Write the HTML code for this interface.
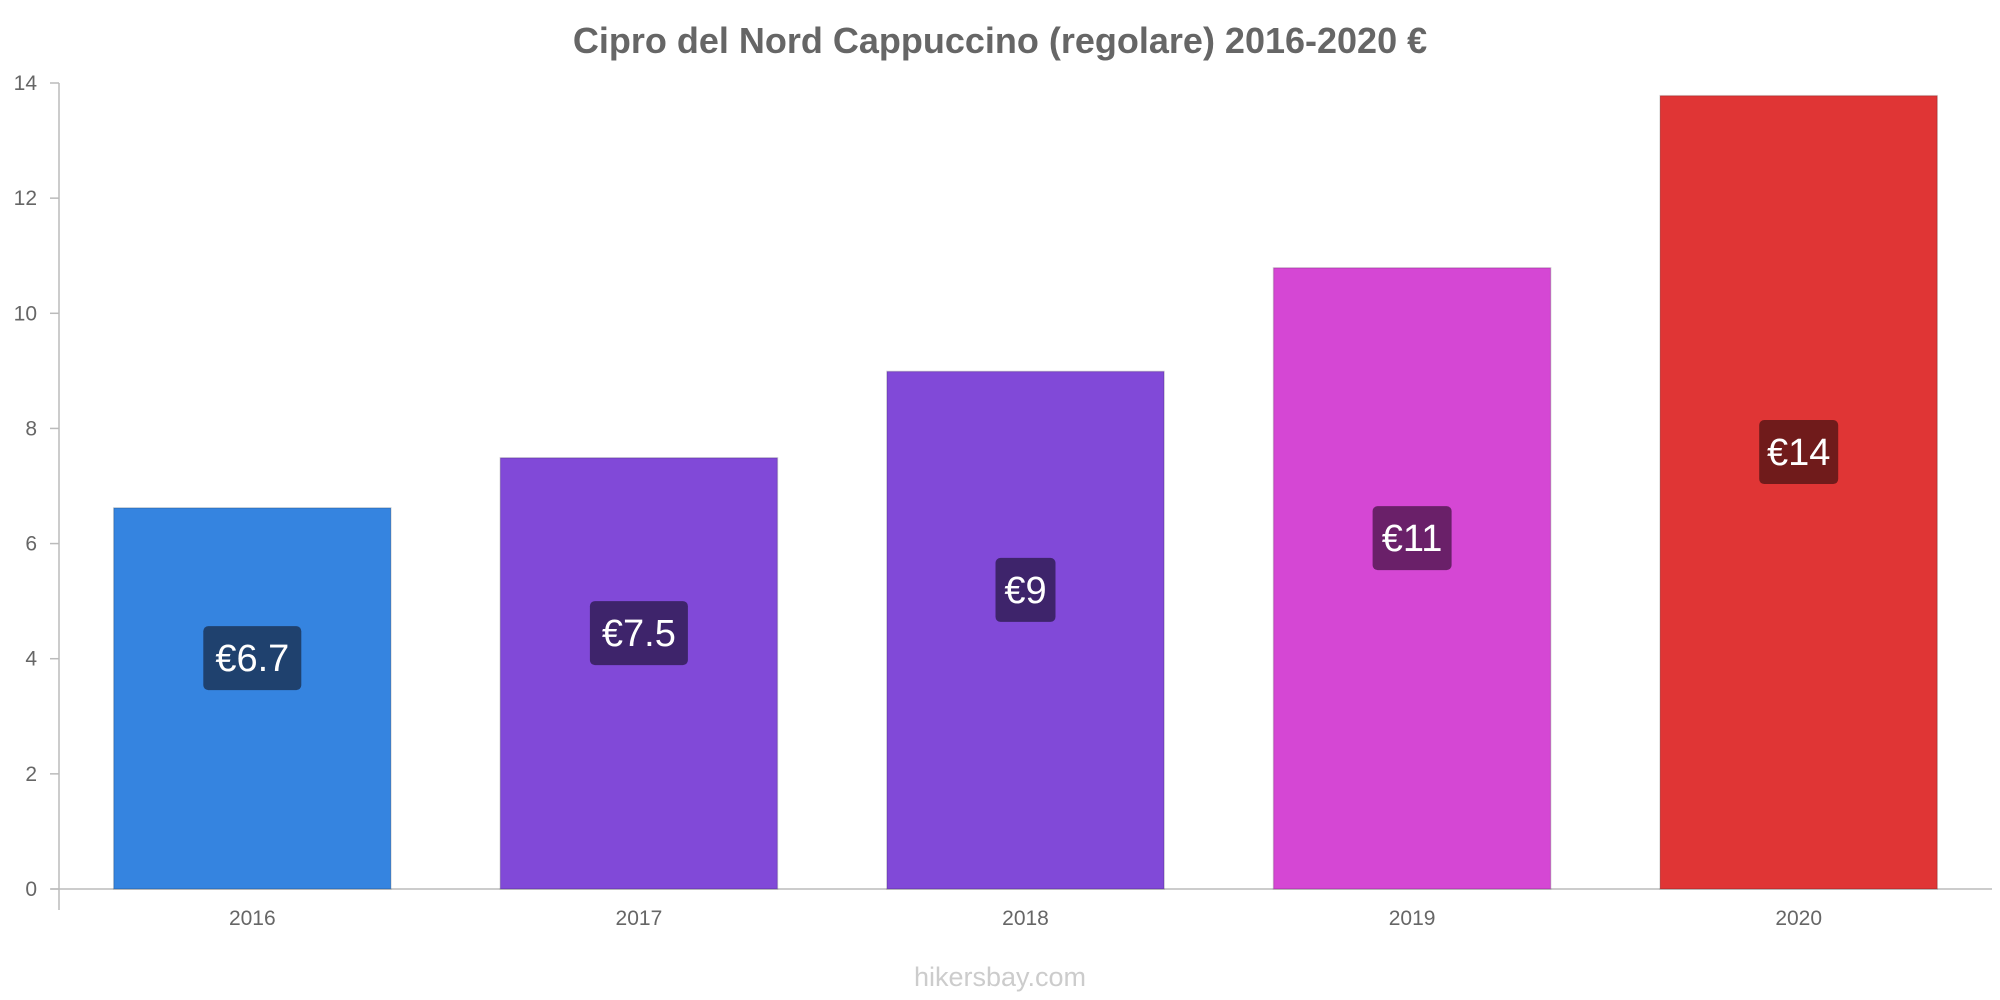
<!DOCTYPE html>
<html><head><meta charset="utf-8"><style>
body{margin:0;background:#fff;}
svg{display:block;font-family:"Liberation Sans",sans-serif;}
</style></head><body>
<svg id="chart" width="2000" height="1000">
<text x="1000" y="53" text-anchor="middle" font-size="36" font-weight="bold" fill="#666">Cipro del Nord Cappuccino (regolare) 2016-2020 €</text>
<g id="axes"></g><g id="bars"></g>
<text x="1000" y="986" text-anchor="middle" font-size="27" fill="#ccc">hikersbay.com</text>
</svg>
<script>
const categories = ["2016","2017","2018","2019","2020"];
const values = [6.62, 7.49, 8.99, 10.79, 13.78];
const labels = ["€6.7","€7.5","€9","€11","€14"];
const yTicks = [0,2,4,6,8,10,12,14];
const colors = ["#3584e0","#8149d8","#8149d8","#d547d4","#e03535"];
const labelBg = ["#1f416e","#3e246b","#3e246b","#6a2069","#701b1b"];

const NS="http://www.w3.org/2000/svg";
const x0=59,x1=1992,yBase=889,yTop=83,yMax=14;
const band=(x1-x0)/categories.length;
const yS=v=>yBase-(yBase-yTop)*v/yMax;
const xC=i=>x0+band*(i+0.5);
function mk(tag,attrs,parent){const e=document.createElementNS(NS,tag);for(const k in attrs)e.setAttribute(k,attrs[k]);parent.appendChild(e);return e;}
const axes=document.getElementById('axes'),bars=document.getElementById('bars');
let l=mk('line',{x1:x0,y1:yTop,x2:x0,y2:910,stroke:'#bbb','stroke-width':1.5},axes);


l=mk('line',{x1:x0-8,y1:yBase,x2:x1,y2:yBase,stroke:'#bbb','stroke-width':1.5},axes);


yTicks.forEach(t=>{
  const y=yS(t);
  const tk=mk('line',{x1:x0-9,y1:y,x2:x0,y2:y,stroke:'#bbb','stroke-width':1.5},axes);
  
  
  const tx=mk('text',{x:37,y:y+7,'text-anchor':'end','font-size':21,fill:'#666'},axes);
  tx.textContent=t;
  
  
});
const bw=band*0.717;
categories.forEach((c,i)=>{
  const cx=xC(i),v=values[i];
  const r=mk('rect',{x:cx-bw/2,y:yS(v),width:bw,height:yBase-yS(v),fill:colors[i],stroke:'rgba(0,0,0,0.15)','stroke-width':1.5},bars);
  
  
  const tx=mk('text',{x:cx,y:yBase+36,'text-anchor':'middle','font-size':21,fill:'#666'},bars);
  tx.textContent=c;
  
  
  const ly=yS(v/2+0.7);
  const w=labels[i].length*19+22;
  const bg=mk('rect',{x:cx-w/2,y:ly-32,width:w,height:64,rx:5,fill:labelBg[i]},bars);
  
  
  const lt=mk('text',{x:cx,y:ly+13,'text-anchor':'middle','font-size':38,fill:'#fff'},bars);
  lt.textContent=labels[i];
  
  
});
</script>
</body></html>
